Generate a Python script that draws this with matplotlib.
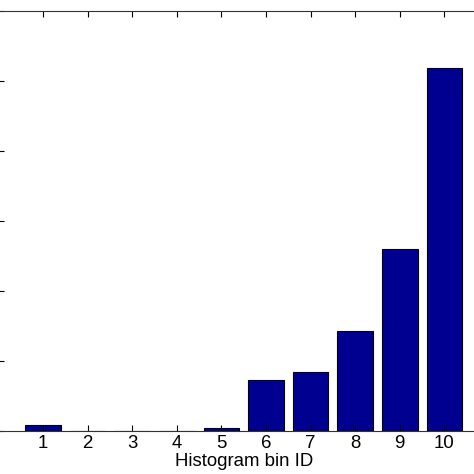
import matplotlib.pyplot as plt

# histogram bin ids and bar heights (y units are one tick step each)
bin_ids = [1, 2, 3, 4, 5, 6, 7, 8, 9, 10]
counts = [0.09, 0.0, 0.0, 0.0, 0.05, 0.73, 0.85, 1.43, 2.60, 5.18]
y_ticks = [0, 1, 2, 3, 4, 5, 6]

plt.rcParams['font.family'] = ['Liberation Sans', 'DejaVu Sans']

fig = plt.figure(figsize=(4.74, 4.74), dpi=100)
ax = fig.add_axes([-0.0034, 0.0907, 1.035, 0.886])

ax.bar(bin_ids, counts, width=0.8, color='#000090', edgecolor='black', linewidth=0.8)

ax.set_xlim(0, 11)
ax.set_ylim(0, 6)
ax.set_xticks(bin_ids)
ax.set_yticks(y_ticks)
ax.set_yticklabels([])  # y labels are cropped out of the reference
ax.tick_params(direction='in', length=4, width=0.8, top=True, right=True,
               labelsize=13.4, pad=3)
ax.set_xlabel('Histogram bin ID', fontsize=13.4, labelpad=0.5)
for s in ax.spines.values():
    s.set_color('#333333')
    s.set_linewidth(0.8)

fig.savefig('out.png', dpi=100)
